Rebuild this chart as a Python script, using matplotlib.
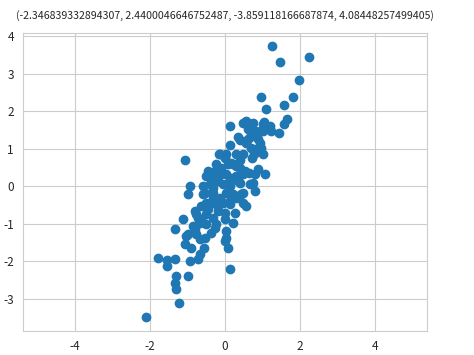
import numpy as np
import matplotlib
matplotlib.use("Agg")
import matplotlib.pyplot as plt
import seaborn as sns

# point positions
x = [1.25, 2.25, 1.46, 1.96, 1.80, 0.95, 1.56, 1.09, 1.64, 1.56,
     1.43, 1.19, 1.22, 1.03, 0.93, 0.74, 0.56, 0.48, 0.13, 0.69,
     0.61, 0.80, 1.01, 1.01, 0.88, 0.66, 0.34, 0.40, 0.61, 0.56,
     0.13, 0.93, -0.16, 0.03, 0.29, 0.48, 0.69, 0.77, 0.95, 1.01,
     0.72, 0.40, -1.06, -0.24, 0.08, 0.21, -0.11, 0.29, 0.40, 0.53,
     0.64, 0.80, -0.45, -0.50, -0.24, 0.03, 0.29, -0.11, 0.48, 0.74,
     0.80, -0.93, -0.98, -0.58, -0.58, -0.32, -0.05, 0.13, 0.40, 0.21,
     0.42, 0.48, 0.56, -0.32, -0.13, -0.50, -0.24, -0.05, 0.13, -0.64,
     -0.77, -0.50, -0.32, 0.00, 0.27, 0.00, -1.11, -0.66, -0.50, -0.24,
     0.21, -1.33, -0.98, -0.77, -0.37, 0.03, 0.03, -0.32, 0.16, -0.80,
     -0.72, -0.27, -0.80, -1.03, -1.06, -0.90, -0.66, -0.53, -0.56, -0.66,
     -0.72, -0.93, 0.00, 0.08, 0.13, -1.78, -1.56, -1.54, -1.33, -1.30,
     -1.33, -0.98, -1.30, -1.22, -2.12, -0.40, -0.53, 0.29, 0.13, -0.19,
     -0.40, 0.48, -0.13, 0.00, 0.16, 0.82, 0.88, 1.06, -0.27, -0.19,
     0.08, 0.34, 0.66, -0.45, -0.19, -0.64, -0.85, -0.32, 0.03]
y = [3.73, 3.44, 3.31, 2.83, 2.38, 2.38, 2.17, 2.06, 1.80, 1.67,
     1.43, 1.61, 1.48, 1.72, 1.46, 1.69, 1.75, 1.69, 1.61, 1.67,
     1.53, 1.46, 1.67, 1.46, 1.27, 1.32, 1.32, 1.24, 1.27, 1.14,
     1.11, 1.14, 0.87, 0.85, 0.85, 0.85, 1.01, 0.87, 1.01, 0.85,
     0.74, 0.71, 0.71, 0.58, 0.58, 0.58, 0.48, 0.53, 0.48, 0.40,
     0.34, 0.32, 0.40, 0.26, 0.26, 0.32, 0.26, 0.32, 0.32, 0.08,
     -0.13, 0.00, -0.21, 0.00, -0.21, -0.05, 0.05, 0.00, 0.08, -0.21,
     -0.21, -0.45, -0.53, -0.32, -0.32, -0.45, -0.48, -0.45, -0.40, -0.53,
     -0.74, -0.74, -0.85, -0.71, -0.71, -0.87, -0.87, -0.98, -1.01, -1.01,
     -0.98, -1.14, -1.27, -1.27, -1.24, -1.19, -1.38, 0.21, 0.21, -0.66,
     -0.85, -1.11, -1.14, -1.32, -1.53, -1.64, -1.40, -1.38, -1.64, -1.80,
     -1.93, -1.98, -1.46, -1.64, -2.20, -1.90, -1.96, -2.12, -1.93, -2.38,
     -2.57, -2.38, -2.75, -3.12, -3.49, 0.05, -0.19, -0.32, -0.48, -0.53,
     -0.45, -0.19, 0.85, 0.74, 0.61, 0.98, 0.45, 0.32, 0.40, 0.13,
     0.08, 0.13, 0.05, -0.61, -0.66, -0.87, -1.06, -0.19, -0.19]

title_text = "(-2.346839332894307, 2.4400046646752487, -3.859118166687874, 4.08448257499405)"
xlims = (-2.346839332894307, 2.4400046646752487)
ylims = (-3.859118166687874, 4.08448257499405)

sns.set_style("whitegrid")
plt.rcParams['font.family'] = ['Noto Sans CJK KR', 'DejaVu Sans']
plt.rcParams['axes.unicode_minus'] = False

fig = plt.figure(figsize=(4.74, 3.55), dpi=100)
ax = fig.add_axes([0.0485, 0.0676, 0.8525, 0.8394])
ax.scatter(x, y, s=36, color='#1f77b4')
ax.set_aspect('equal', adjustable='datalim')
ax.set_xlim(*xlims)
ax.set_ylim(*ylims)
ax.set_xticks([-4, -2, 0, 2, 4])
ax.set_yticks([-3, -2, -1, 0, 1, 2, 3, 4])
ax.tick_params(labelsize=8.5, pad=3)
ax.set_title(title_text, fontsize=7.6, pad=10)

fig.savefig("out.png", dpi=100)
